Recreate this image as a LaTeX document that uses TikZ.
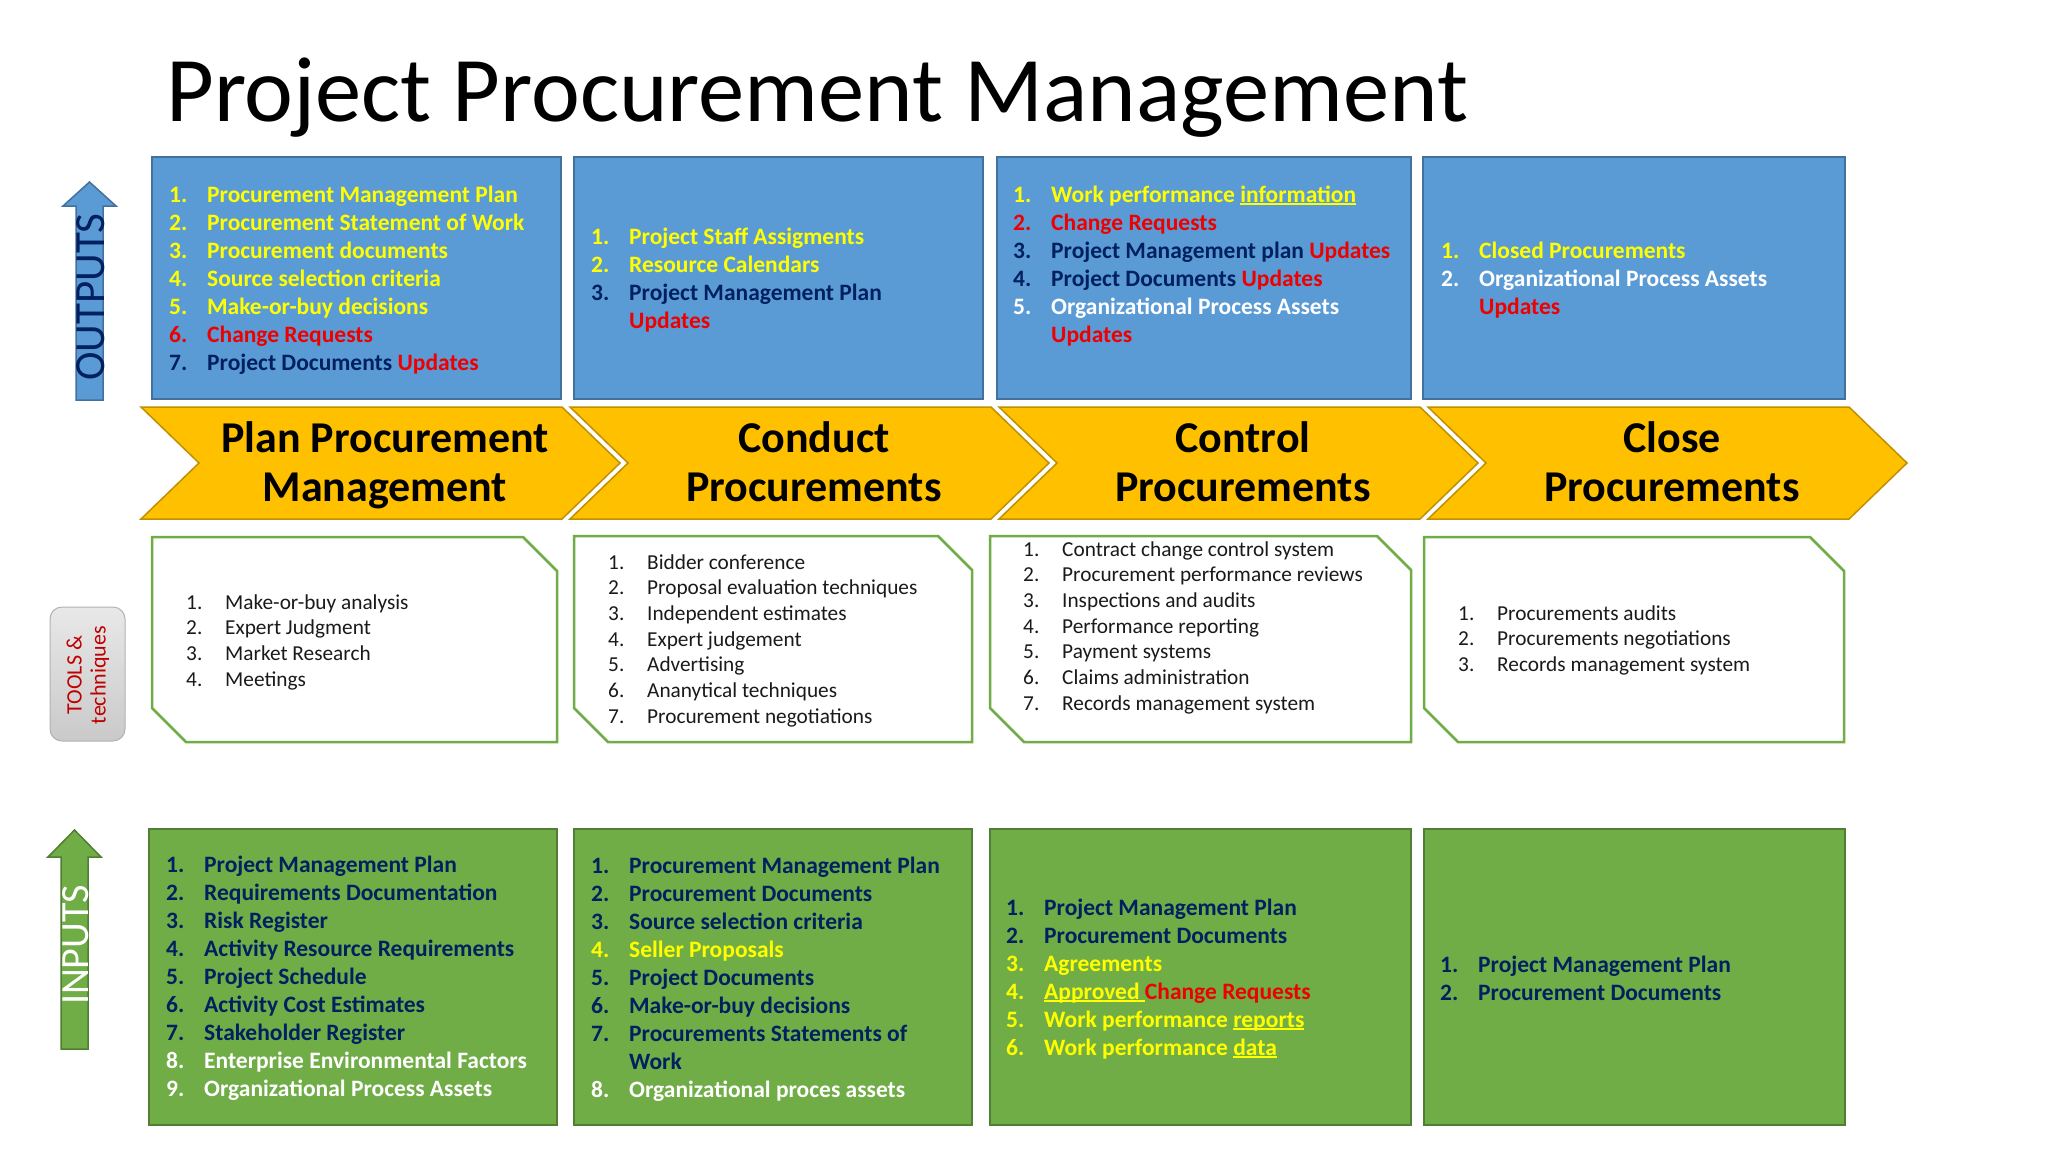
\documentclass[tikz,border=0pt]{standalone}
\usepackage{fontspec}
\setmainfont{Carlito}
\definecolor{yel}{HTML}{FFFF00}
\definecolor{nav}{HTML}{002060}
\definecolor{rd}{HTML}{EE0000}
\definecolor{bluefill}{HTML}{5B9BD5}
\definecolor{blueline}{HTML}{41719C}
\definecolor{greenfill}{HTML}{70AD47}
\definecolor{greenline}{HTML}{507E32}
\definecolor{gold}{HTML}{FFC000}
\definecolor{goldline}{HTML}{BF9000}
\definecolor{tooltext}{HTML}{1A1A1A}
\definecolor{toolred}{HTML}{C00000}
\newsavebox\ulbox
\newcommand\myul[1]{\sbox\ulbox{#1}\makebox[0pt][l]{\usebox\ulbox}\rule[-2.8pt]{\wd\ulbox}{1.5pt}}
\newcommand\itm[3]{{\color{#1}\makebox[38pt][l]{#2}#3}}
\newcommand\titm[2]{\makebox[39pt][l]{#1}#2}
\tikzset{
 outbox/.style={fill=bluefill, draw=blueline, line width=2pt},
 inbox/.style={fill=greenfill, draw=greenline, line width=2pt},
 toolbox/.style={fill=white, draw=greenfill, line width=2.5pt, line join=miter},
 chev/.style={fill=gold, draw=goldline, line width=1.5pt, line join=miter},
 biglist/.style={anchor=base west, inner sep=0pt, font=\bfseries\fontsize{23.5}{28}\selectfont},
 toollist/.style={anchor=base west, inner sep=0pt, text=tooltext, font=\fontsize{21.3}{25.7}\selectfont},
 chevtext/.style={anchor=base, inner sep=0pt, text=black, font=\bfseries\fontsize{44}{50}\selectfont},
}
\begin{document}
\begin{tikzpicture}[x=1pt,y=-1pt]
\useasboundingbox (0,0) rectangle (2048,1152);
\fill[white] (0,0) rectangle (2048,1152);

% title
\node[anchor=base west, inner sep=0pt, font=\fontsize{92.5}{100}\selectfont] (title) at (166,121) {Project Procurement Management};

% OUTPUTS arrow
\draw[fill=bluefill, draw=blueline, line width=1.5pt, line join=miter]
  (76,400) -- (76,206) -- (63,206) -- (89.5,182) -- (116,206) -- (103,206) -- (103,400) -- cycle;
\node[rotate=90, anchor=base, inner sep=0pt, text=nav, font=\fontsize{43}{43}\selectfont] (outlbl) at (104,297) {OUTPUTS};

% INPUTS arrow
\draw[fill=greenfill, draw=greenline, line width=1.5pt, line join=miter]
  (61,1049) -- (61,857) -- (48,857) -- (74.5,830) -- (101,857) -- (88,857) -- (88,1049) -- cycle;
\node[rotate=90, anchor=base, inner sep=0pt, text=white, font=\fontsize{40}{40}\selectfont] (inlbl) at (88,945) {INPUTS};

% TOOLS label
\shade[top color=gray!18, bottom color=gray!42, draw=gray!60, line width=1pt, rounded corners=12pt] (50,607) rectangle (125,741);
\node[rotate=90, align=center, inner sep=0pt, text=toolred, font=\fontsize{22}{24}\selectfont] (toollbl) at (88,675) {TOOLS \&\\techniques};

% output boxes
\draw[outbox] (152,157) rectangle (561,399);
\draw[outbox] (574,157) rectangle (983,399);
\draw[outbox] (997,157) rectangle (1411,399);
\draw[outbox] (1423,157) rectangle (1845,399);

\node[biglist] (o1) at (169,202) {\begin{tabular}[t]{@{}l@{}}
\itm{yel}{1.}{Procurement Management Plan}\\
\itm{yel}{2.}{Procurement Statement of Work}\\
\itm{yel}{3.}{Procurement documents}\\
\itm{yel}{4.}{Source selection criteria}\\
\itm{yel}{5.}{Make-or-buy decisions}\\
\itm{rd}{6.}{Change Requests}\\
\itm{nav}{7.}{Project Documents \textcolor{rd}{Updates}}
\end{tabular}};
\node[biglist] (o2) at (591,244) {\begin{tabular}[t]{@{}l@{}}
\itm{yel}{1.}{Project Staff Assigments}\\
\itm{yel}{2.}{Resource Calendars}\\
\itm{nav}{3.}{Project Management Plan}\\
\itm{rd}{}{Updates}
\end{tabular}};
\node[biglist] (o3) at (1013,202) {\begin{tabular}[t]{@{}l@{}}
\itm{yel}{1.}{Work performance \myul{information}}\\
\itm{rd}{2.}{Change Requests}\\
\itm{nav}{3.}{Project Management plan \textcolor{rd}{Updates}}\\
\itm{nav}{4.}{Project Documents \textcolor{rd}{Updates}}\\
\itm{white}{5.}{Organizational Process Assets}\\
\itm{rd}{}{Updates}
\end{tabular}};
\node[biglist] (o4) at (1441,258) {\begin{tabular}[t]{@{}l@{}}
\itm{yel}{1.}{Closed Procurements}\\
\itm{white}{2.}{Organizational Process Assets}\\
\itm{rd}{}{Updates}
\end{tabular}};

% chevrons
\foreach \L in {141,570,999,1428}{
  \draw[chev] (\L,407) -- ({\L+421},407) -- ({\L+479},463) -- ({\L+421},519) -- (\L,519) -- ({\L+58},463) -- cycle;
}
\node[chevtext] (c1a) at (385,452) {Plan Procurement};
\node[chevtext] (c1b) at (385,501) {Management};
\node[chevtext] (c2a) at (814,452) {Conduct};
\node[chevtext] (c2b) at (814,501) {Procurements};
\node[chevtext] (c3a) at (1243,452) {Control};
\node[chevtext] (c3b) at (1243,501) {Procurements};
\node[chevtext] (c4a) at (1672,452) {Close};
\node[chevtext] (c4b) at (1672,501) {Procurements};

% tools boxes
\draw[toolbox] (152,537) -- (523,537) -- (557,571) -- (557,742) -- (186,742) -- (152,708) -- cycle;
\draw[toolbox] (574,536) -- (938,536) -- (972,570) -- (972,742) -- (608,742) -- (574,708) -- cycle;
\draw[toolbox] (990,536) -- (1377,536) -- (1411,570) -- (1411,742) -- (1024,742) -- (990,708) -- cycle;
\draw[toolbox] (1424,537) -- (1810,537) -- (1844,571) -- (1844,742) -- (1458,742) -- (1424,708) -- cycle;

\node[toollist] (t1) at (186,609) {\begin{tabular}[t]{@{}l@{}}
\titm{1.}{Make-or-buy analysis}\\
\titm{2.}{Expert Judgment}\\
\titm{3.}{Market Research}\\
\titm{4.}{Meetings}
\end{tabular}};
\node[toollist] (t2) at (608,569) {\begin{tabular}[t]{@{}l@{}}
\titm{1.}{Bidder conference}\\
\titm{2.}{Proposal evaluation techniques}\\
\titm{3.}{Independent estimates}\\
\titm{4.}{Expert judgement}\\
\titm{5.}{Advertising}\\
\titm{6.}{Ananytical techniques}\\
\titm{7.}{Procurement negotiations}
\end{tabular}};
\node[toollist] (t3) at (1023,556) {\begin{tabular}[t]{@{}l@{}}
\titm{1.}{Contract change control system}\\
\titm{2.}{Procurement performance reviews}\\
\titm{3.}{Inspections and audits}\\
\titm{4.}{Performance reporting}\\
\titm{5.}{Payment systems}\\
\titm{6.}{Claims administration}\\
\titm{7.}{Records management system}
\end{tabular}};
\node[toollist] (t4) at (1458,620) {\begin{tabular}[t]{@{}l@{}}
\titm{1.}{Procurements audits}\\
\titm{2.}{Procurements negotiations}\\
\titm{3.}{Records management system}
\end{tabular}};

% input boxes
\draw[inbox] (149,829) rectangle (557,1125);
\draw[inbox] (574,829) rectangle (972,1125);
\draw[inbox] (990,829) rectangle (1411,1125);
\draw[inbox] (1424,829) rectangle (1845,1125);

\node[biglist] (i1) at (166,872) {\begin{tabular}[t]{@{}l@{}}
\itm{nav}{1.}{Project Management Plan}\\
\itm{nav}{2.}{Requirements Documentation}\\
\itm{nav}{3.}{Risk Register}\\
\itm{nav}{4.}{Activity Resource Requirements}\\
\itm{nav}{5.}{Project Schedule}\\
\itm{nav}{6.}{Activity Cost Estimates}\\
\itm{nav}{7.}{Stakeholder Register}\\
\itm{white}{8.}{Enterprise Environmental Factors}\\
\itm{white}{9.}{Organizational Process Assets}
\end{tabular}};
\node[biglist] (i2) at (591,873) {\begin{tabular}[t]{@{}l@{}}
\itm{nav}{1.}{Procurement Management Plan}\\
\itm{nav}{2.}{Procurement Documents}\\
\itm{nav}{3.}{Source selection criteria}\\
\itm{yel}{4.}{Seller Proposals}\\
\itm{nav}{5.}{Project Documents}\\
\itm{nav}{6.}{Make-or-buy decisions}\\
\itm{nav}{7.}{Procurements Statements of}\\
\itm{nav}{}{Work}\\
\itm{white}{8.}{Organizational proces assets}
\end{tabular}};
\node[biglist] (i3) at (1006,915) {\begin{tabular}[t]{@{}l@{}}
\itm{nav}{1.}{Project Management Plan}\\
\itm{nav}{2.}{Procurement Documents}\\
\itm{yel}{3.}{Agreements}\\
\itm{yel}{4.}{\myul{Approved\ }\textcolor{rd}{Change Requests}}\\
\itm{yel}{5.}{Work performance \myul{reports}}\\
\itm{yel}{6.}{Work performance \myul{data}}
\end{tabular}};
\node[biglist] (i4) at (1440,972) {\begin{tabular}[t]{@{}l@{}}
\itm{nav}{1.}{Project Management Plan}\\
\itm{nav}{2.}{Procurement Documents}
\end{tabular}};
\end{tikzpicture}
\end{document}
